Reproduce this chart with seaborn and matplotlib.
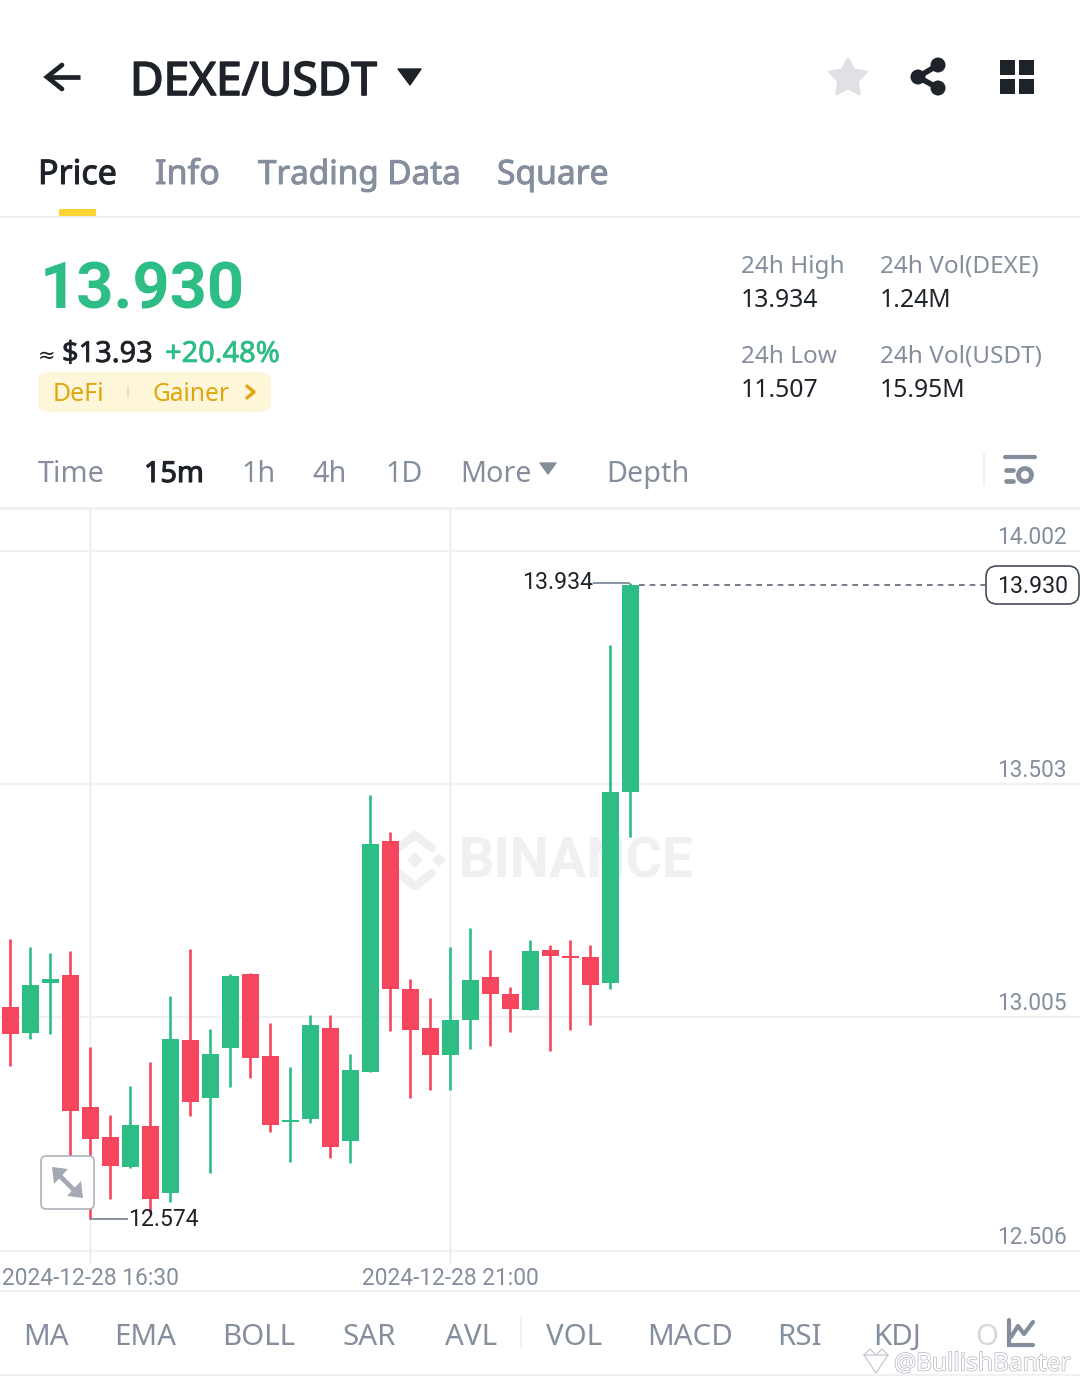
import matplotlib
matplotlib.use('Agg')
import matplotlib.pyplot as plt
from matplotlib.patches import FancyBboxPatch, Polygon, Circle, Rectangle
from matplotlib.transforms import ScaledTranslation
import matplotlib.patheffects as pe
import seaborn as sns
import numpy as np
import pandas as pd

# candles, left to right, 15m
open_ = [13.027, 12.972, 13.079, 13.096, 12.814, 12.750, 12.685, 12.773, 12.630, 12.957, 12.833,
         12.940, 13.098, 12.923, 12.782, 12.788, 12.983, 12.741, 12.889, 13.382, 13.066, 12.983,
         12.925, 13.000, 13.092, 13.055, 13.021, 13.149, 13.136, 13.134, 13.079, 13.487]
high = [13.173, 13.156, 13.143, 13.147, 12.942, 12.797, 12.859, 12.910, 13.051, 13.151, 12.980,
        13.098, 13.100, 12.993, 12.899, 13.010, 13.010, 12.927, 13.481, 13.401, 13.087, 13.047,
        13.156, 13.196, 13.149, 13.070, 13.171, 13.160, 13.171, 13.160, 13.801, 13.934]
low = [12.901, 12.959, 12.970, 12.700, 12.574, 12.617, 12.683, 12.587, 12.611, 12.795, 12.673,
       12.856, 12.876, 12.760, 12.696, 12.780, 12.705, 12.694, 12.889, 12.976, 12.833, 12.850,
       12.850, 12.938, 12.944, 12.974, 13.021, 12.933, 12.978, 12.989, 13.066, 13.391]
close = [12.970, 13.074, 13.087, 12.805, 12.745, 12.688, 12.775, 12.617, 12.959, 12.824, 12.927,
         13.094, 12.918, 12.775, 12.786, 12.989, 12.728, 12.893, 13.376, 13.066, 12.978, 12.925,
         13.000, 13.085, 13.055, 13.023, 13.147, 13.136, 13.132, 13.074, 13.487, 13.930]

price_ticks = [14.002, 13.503, 13.005, 12.506]
date_ticks = [4, 22]
date_labels = ['2024-12-28 16:30', '2024-12-28 21:00']
last_price = 13.930
day_high = 13.934
day_low = 12.574

tabs = ['Price', 'Info', 'Trading Data', 'Square']
intervals = ['Time', '15m', '1h', '4h', '1D', 'More', 'Depth']
indicators = ['MA', 'EMA', 'BOLL', 'SAR', 'AVL', 'VOL', 'MACD', 'RSI', 'KDJ', 'O']

GREEN = '#2EBD85'
RED = '#F6465D'
DARK = '#1E2329'
GRAY = '#848E9C'
LINE = '#F0F1F2'
ROBOTO = ['Roboto', 'DejaVu Sans']

sns.set_theme(style='white')
plt.rcParams['font.family'] = ['Noto Sans', 'DejaVu Sans']
fig = plt.figure(figsize=(10.8, 13.82), dpi=100, facecolor='white')
W, H = 1080, 1382


def px(size):
    return size * 0.72


def full_axes(z):
    a = fig.add_axes([0, 0, 1, 1], zorder=z)
    a.set_xlim(0, W)
    a.set_ylim(H, 0)
    a.axis('off')
    a.patch.set_alpha(0)
    return a


bg = full_axes(0)
ui = full_axes(5)

# chart area runs from y=510 to y=1264
ax = fig.add_axes([0, 1 - 1264 / H, 1, (1264 - 510) / H], zorder=2)
ax.patch.set_alpha(0)

df = pd.DataFrame({'idx': range(len(open_)), 'open': open_, 'high': high, 'low': low, 'close': close})
df['top'] = df[['open', 'close']].max(axis=1)
df['bottom'] = df[['open', 'close']].min(axis=1)
df['body'] = df['top'] - df['bottom']
up = df[df['close'] > df['open']]
down = df[df['close'] <= df['open']]

for part, col in [(up, GREEN), (down, RED)]:
    ax.vlines(part['idx'], part['low'], part['high'], color=col, lw=1.9, zorder=3)
    sns.barplot(data=part, x='idx', y='body', bottom=part['bottom'].to_numpy(), native_scale=True,
                width=0.87, color=col, saturation=1, errorbar=None, ax=ax, zorder=4, linewidth=0)

ax.set_xlim(-0.515, 53.485)
ax.set_ylim(12.478, 14.0896)
ax.set_xlabel('')
ax.set_ylabel('')
sns.despine(ax=ax, left=True, bottom=True)
ax.grid(True, color=LINE, lw=1.6, axis='y', zorder=0)
ax.grid(True, color='#E6E8EA', lw=1, axis='x', zorder=0)
ax.set_axisbelow(True)

ax.set_xticks(date_ticks, date_labels)
ax.tick_params(axis='x', length=0, pad=2.5, labelsize=px(22.8), labelcolor=GRAY)
ax.set_yticks(price_ticks, [f'{p:.3f}' for p in price_ticks])
ax.tick_params(axis='y', length=0, left=False, right=False, labelleft=False, labelright=True,
               pad=-px(13), labelsize=px(22.6), labelcolor=GRAY)
shift = ScaledTranslation(0, 1.6 / 72, fig.dpi_scale_trans)
for lab in ax.get_yticklabels():
    lab.set_ha('right')
    lab.set_va('bottom')
    lab.set_family(ROBOTO)
    lab.set_transform(lab.get_transform() + shift)
for lab in ax.get_xticklabels():
    lab.set_family(ROBOTO)

# high / low / last markers
ax.hlines(day_high, 29.15, 31, color='#76808F', lw=1.2, zorder=5)
ax.text(29.15, day_high, f'{day_high:.3f}', ha='right', va='center', fontsize=px(23),
        color=DARK, family=ROBOTO, zorder=6)
ax.hlines(day_low, 4, 5.9, color='#76808F', lw=1.2, zorder=5)
ax.text(5.9, day_low, f'{day_low:.3f}', ha='left', va='center', fontsize=px(23),
        color=DARK, family=ROBOTO, zorder=6)
ax.hlines(last_price, 31.45, 48.75, color='#5E6673', lw=1.2, linestyles=(0, (3.4, 3)), zorder=3)
ui.add_patch(FancyBboxPatch((986, 566), 93, 38, boxstyle='round,pad=0,rounding_size=11',
                            fc='white', ec='#474D57', lw=1.2, zorder=3))
ui.text(1033, 586, f'{last_price:.3f}', ha='center', va='center', fontsize=px(23),
        color=DARK, family=ROBOTO, zorder=4)


def label(x, y, s, size, color=GRAY, weight='normal', stroke=0, **kw):
    t = ui.text(x, y, s, fontsize=px(size), color=color, fontweight=weight, ha='left',
                va='baseline', **kw)
    if stroke:
        # installed Noto Sans has no medium cut, thicken it a little
        t.set_path_effects([pe.withStroke(linewidth=stroke, foreground=color)])


# header
ui.plot([48, 80], [77, 77], color=DARK, lw=3.4, solid_capstyle='butt')
ui.plot([62, 47, 62], [65, 77, 89], color=DARK, lw=3.4, solid_joinstyle='miter')
label(130, 95, 'DEXE/USDT', 46, DARK, stroke=1.2)
ui.add_patch(Polygon([(398, 69), (421, 69), (410, 85)], fc=DARK, ec=DARK, lw=1, joinstyle='round'))
star_ang = np.deg2rad(np.arange(-90, 270, 36))
star_r = np.where(np.arange(10) % 2 == 0, 19.5, 10)
ui.add_patch(Polygon(np.c_[848 + star_r * np.cos(star_ang), 78 + star_r * np.sin(star_ang)],
                     fc='#DFE1E5', ec='#DFE1E5', lw=2, joinstyle='round'))
ui.plot([938, 918, 938], [65, 77, 88], color=DARK, lw=4)
for cx, cy in [(938, 65), (918, 77), (938, 88)]:
    ui.add_patch(Circle((cx, cy), 7.5, fc=DARK, ec='none'))
for rx, ry in [(1000, 60), (1019, 60), (1000, 79), (1019, 79)]:
    ui.add_patch(Rectangle((rx, ry), 15, 15, fc=DARK, ec='none'))

tab_x = [38, 155, 258, 497]
tab_size = [34, 34, 33.2, 33.6]
for i, (x, s) in enumerate(zip(tab_x, tabs)):
    label(x, 184, s, tab_size[i], DARK if i == 0 else GRAY, stroke=0.7)
ui.add_patch(Rectangle((59, 209), 37, 7, fc='#FCD535', ec='none', zorder=3))
bg.plot([0, W], [217, 217], color=LINE, lw=1.6)

# price block
label(40, 308.5, '13.930', 65, GREEN, 'bold', family=ROBOTO)
label(38, 362, '≈', 21, DARK)
label(62, 362, '$13.93', 29, DARK, stroke=0.5)
label(165, 362, '+20.48%', 29, GREEN, stroke=0.5)
ui.add_patch(FancyBboxPatch((38, 372), 233, 40, boxstyle='round,pad=0,rounding_size=10', fc='#FEF6D8', ec='none'))
label(53, 401, 'DeFi', 25, '#DFA60F')
ui.plot([128, 128], [387, 397], color='#F0E2B0', lw=1.5)
label(153, 401, 'Gainer', 24.5, '#DFA60F')
ui.plot([247, 254, 247], [386, 392, 398], color='#DFA60F', lw=2.4)

stat_x = [741, 880]
stat_names = [['24h High', '24h Vol(DEXE)'], ['24h Low', '24h Vol(USDT)']]
stat_vals = [['13.934', '1.24M'], ['11.507', '15.95M']]
for r, (y0, y1) in enumerate([(273, 307), (363, 397)]):
    for c, x in enumerate(stat_x):
        label(x, y0, stat_names[r][c], 24.3, GRAY)
        label(x, y1, stat_vals[r][c], 24.8, DARK)

# interval row
interval_x = [38, 144, 241, 312, 385, 460, 606]
for x, s in zip(interval_x, intervals):
    label(x, 482, s, 28.8, DARK if s == '15m' else GRAY, stroke=0.8 if s == '15m' else 0)
ui.add_patch(Polygon([(540, 463), (556, 463), (548, 474)], fc=GRAY, ec=GRAY, lw=1, joinstyle='round'))
ui.plot([984, 984], [454, 485], color=LINE, lw=1.6)
ui.plot([1005, 1035], [457, 457], color=GRAY, lw=3)
ui.plot([1006, 1013], [470, 470], color=GRAY, lw=3.4)
ui.plot([1006, 1013], [481, 481], color=GRAY, lw=3.4)
ui.add_patch(Circle((1025, 475), 6.5, fc='white', ec=GRAY, lw=3.4))
bg.plot([0, W], [508, 508], color=LINE, lw=2)

# watermark behind the candles
bg.text(459, 877, 'BINANCE', fontsize=px(55.5), color='#EFF0F1', fontweight='bold', va='baseline', family=ROBOTO)
for cx, cy, r in [(415, 860, 8), (439, 860, 7), (391, 860, 7)]:
    bg.add_patch(Polygon([(cx - r, cy), (cx, cy - r), (cx + r, cy), (cx, cy + r)], fc='#EFF0F1', ec='none'))
bg.plot([398, 415, 432], [848, 835, 848], color='#EFF0F1', lw=6)
bg.plot([398, 415, 432], [873, 886, 873], color='#EFF0F1', lw=6)

# expand button
ICON = '#A3AAB4'
ui.add_patch(FancyBboxPatch((41, 1156), 53, 53, boxstyle='round,pad=0,rounding_size=5', fc='white', ec='#AEB4BC', lw=1.2))
ui.plot([58, 68], [1174, 1184], color=ICON, lw=3.4, solid_capstyle='butt')
ui.plot([67, 77], [1183, 1193], color=ICON, lw=3.4, solid_capstyle='butt')
ui.add_patch(Polygon([(52, 1167), (68, 1169), (54, 1184)], fc=ICON, ec='none'))
ui.add_patch(Polygon([(83, 1198), (67, 1196), (81, 1181)], fc=ICON, ec='none'))

# indicator row
bg.plot([0, W], [1291, 1291], color=LINE, lw=1.6)
bg.plot([0, W], [1375, 1375], color=LINE, lw=1.6)
indicator_x = [23, 114, 222, 342, 445, 546, 647, 777, 873, 975]
for x, s in zip(indicator_x, indicators):
    label(x, 1345, s, 29.5, '#D5D8DC' if s == 'O' else GRAY)
ui.plot([521, 521], [1318, 1348], color=LINE, lw=1.6)
ui.plot([1009, 1009, 1033], [1320, 1345, 1345], color=GRAY, lw=3, solid_joinstyle='miter')
ui.plot([1011, 1018, 1024, 1033], [1337, 1326, 1334, 1322], color=GRAY, lw=3)

# account watermark
ui.text(894, 1370.5, '@BullishBanter', fontsize=px(24.5), color='white', va='baseline',
        path_effects=[pe.withStroke(linewidth=1.1, foreground='#B7BCC4')])
ui.plot([864, 876, 888, 864], [1355, 1373, 1355, 1355], color='#BEC2C9', lw=0.8)
ui.plot([864, 870, 876, 882, 888], [1355, 1349, 1355, 1349, 1355], color='#BEC2C9', lw=0.8)

fig.savefig('out.png', dpi=100, facecolor='white')
